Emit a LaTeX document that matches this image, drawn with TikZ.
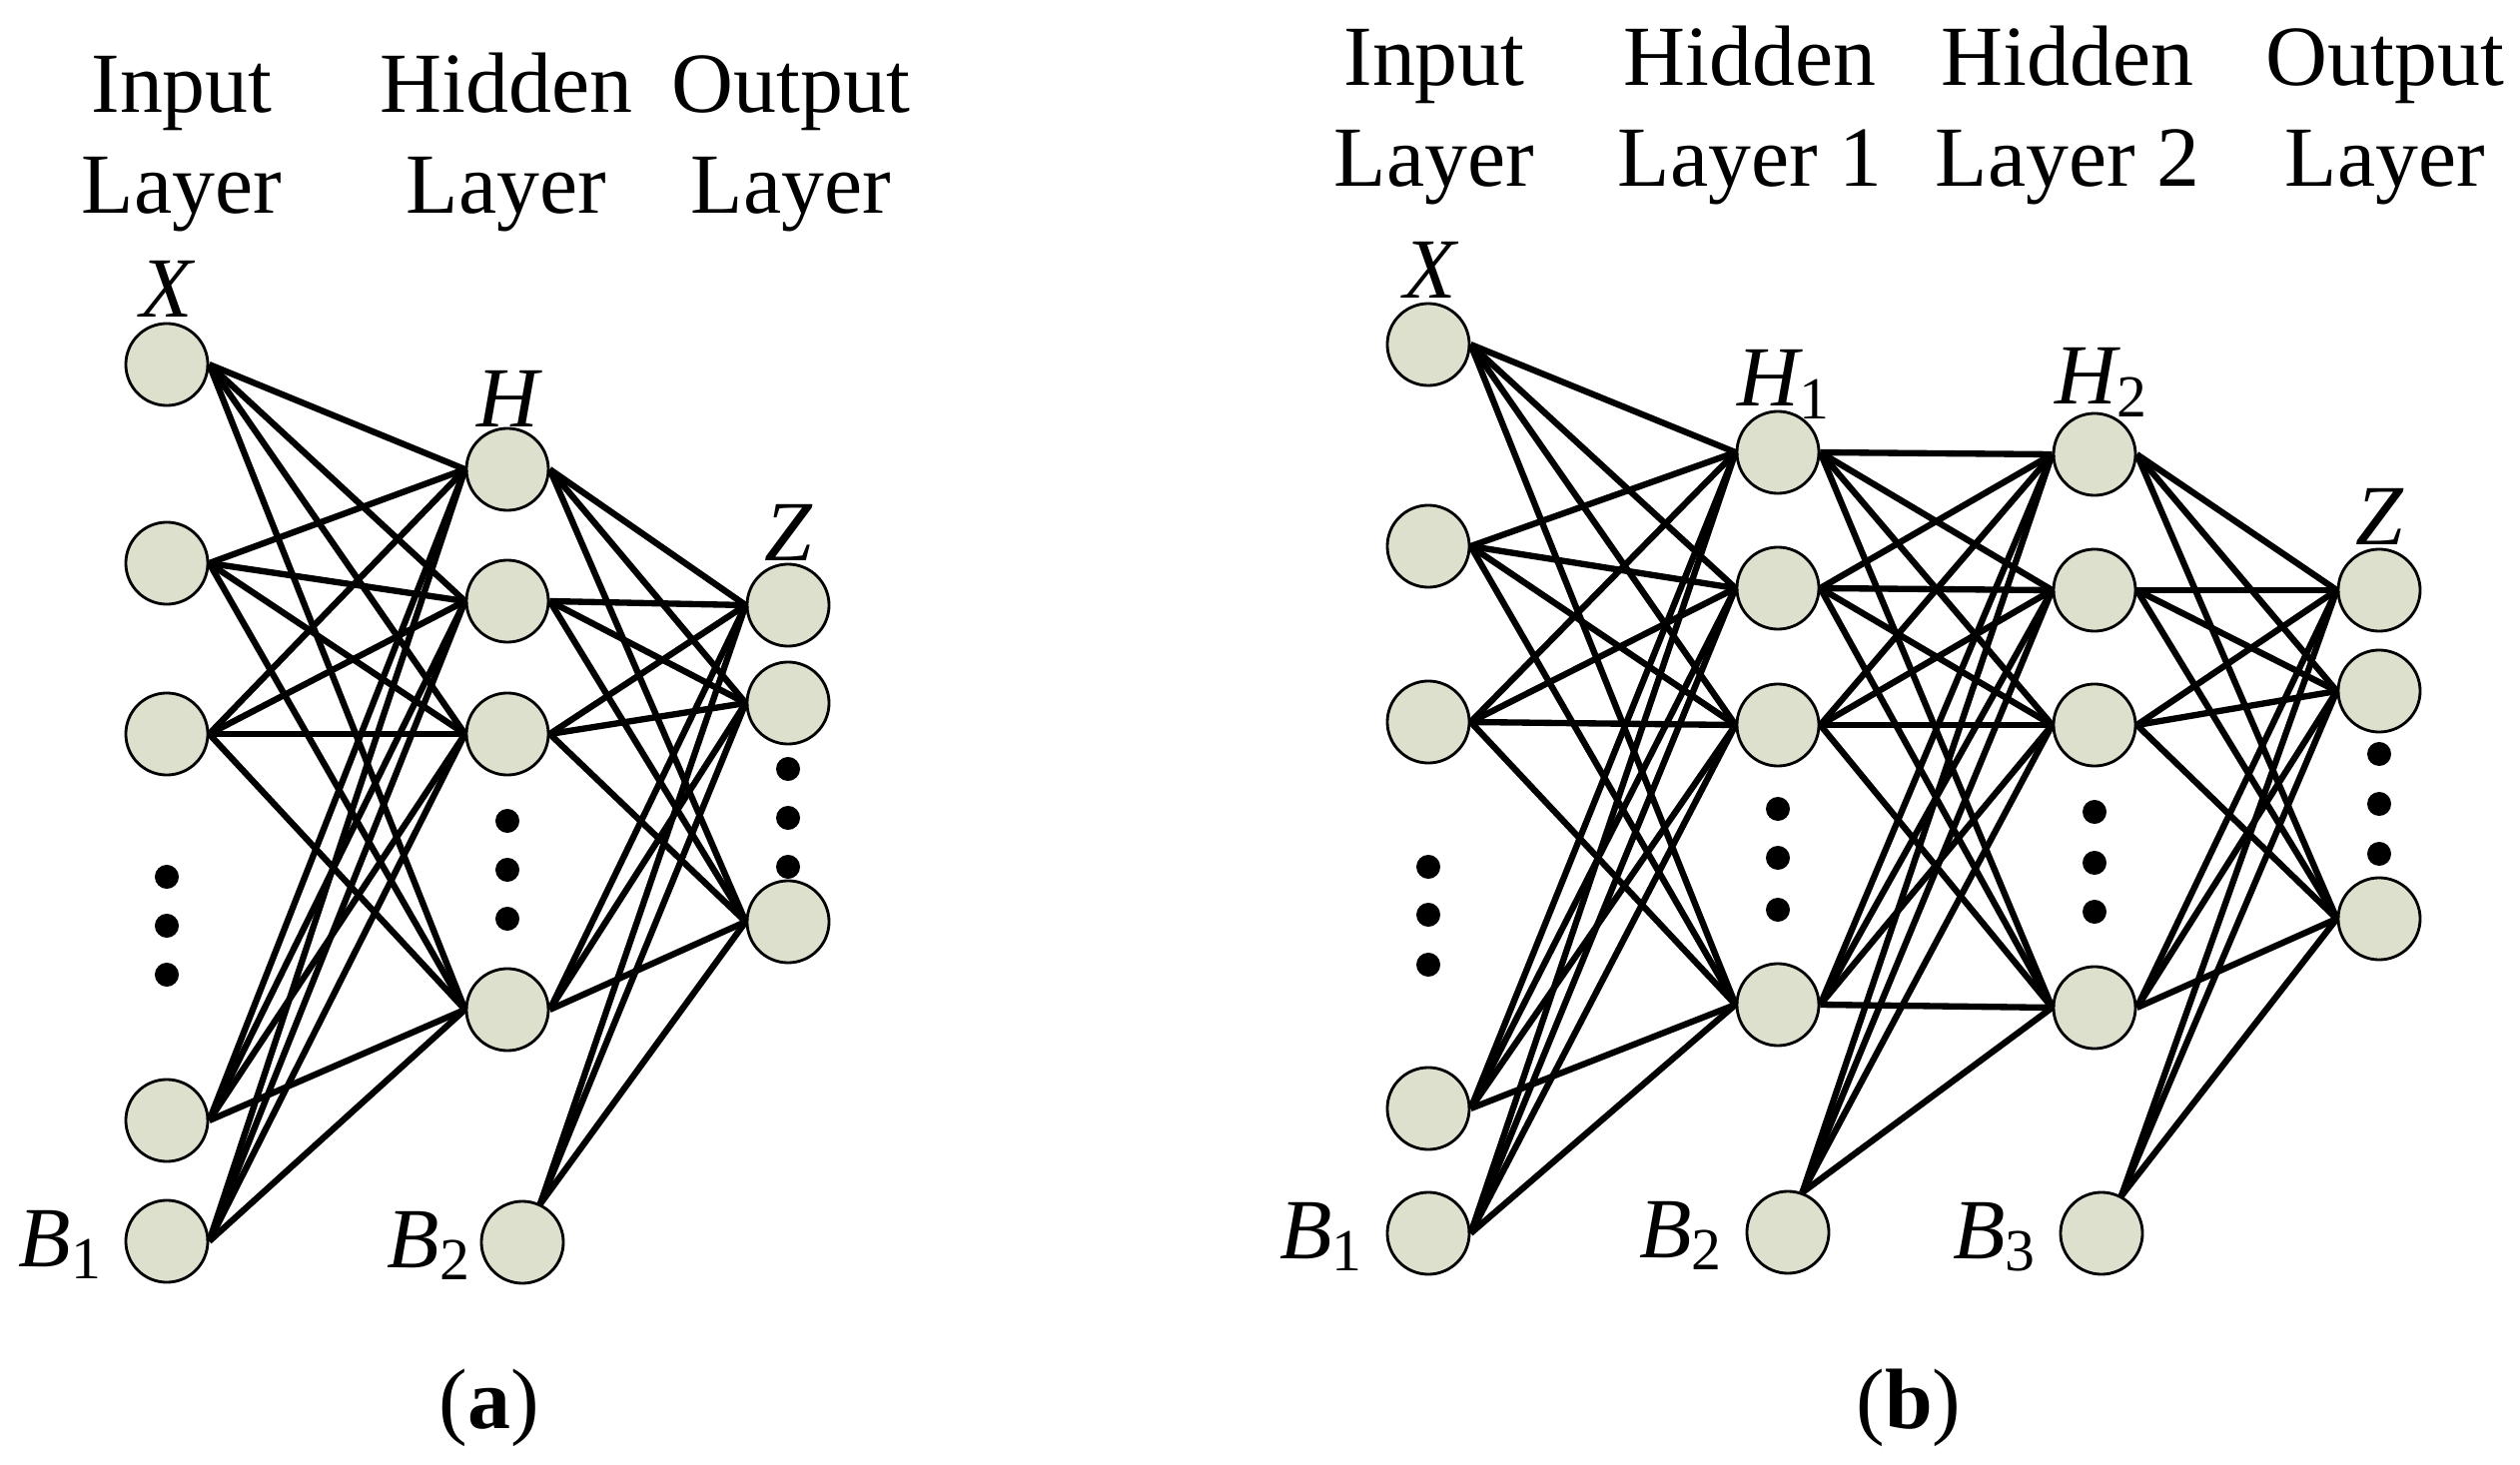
\documentclass[tikz,border=0pt]{standalone}
\usepackage{fontspec}
\setmainfont{Liberation Serif}
\usetikzlibrary{positioning}
\definecolor{nodefill}{HTML}{DCE0CC}
\newcommand{\subidx}[1]{\raisebox{-0.15em}{\upshape\fontsize{17}{17}\selectfont #1}}

\begin{document}
\begin{tikzpicture}[x=0.01cm, y=-0.01cm,
  neuron/.style={circle, draw, line width=0.8pt, fill=nodefill, minimum size=0.82cm, inner sep=0pt},
  vdot/.style={circle, fill=black, minimum size=0.24cm, inner sep=0pt},
  wire/.style={line width=1.8pt},
  lbl/.style={font=\fontsize{24.4}{29}\selectfont, inner sep=0pt}]
  \useasboundingbox (0,0) rectangle (2523,1467);

  % (a) layer titles
  \node [lbl, align=center, anchor=base] (ta1) at (182,214) {Input\\Layer};
  \node [lbl, align=center, anchor=base] (ta2) at (507,214) {Hidden\\Layer};
  \node [lbl, align=center, anchor=base] (ta3) at (792,214) {Output\\Layer};

  % (a) input layer
  \node [neuron] (ai1) at (167,365) {};
  \node [neuron] (ai2) at (167,564) {};
  \node [neuron] (ai3) at (167,735) {};
  \node [neuron] (ai4) at (167,1122) {};
  \node [neuron] (ab1) at (167,1243) {};
  \foreach \y [count=\i] in {878,927,976} \node [vdot] (aid\i) at (167,\y) {};
  % (a) hidden layer
  \node [neuron] (ah1) at (508,470) {};
  \node [neuron] (ah2) at (508,602) {};
  \node [neuron] (ah3) at (508,735) {};
  \node [neuron] (ah4) at (508,1011) {};
  \node [neuron] (ab2) at (523,1244) {};
  \foreach \y [count=\i] in {822,871,920} \node [vdot] (ahd\i) at (508,\y) {};
  % (a) output layer
  \node [neuron] (ao1) at (789,606) {};
  \node [neuron] (ao2) at (789,704) {};
  \node [neuron] (ao3) at (789,923) {};
  \foreach \y [count=\i] in {770,819,868} \node [vdot] (aod\i) at (789,\y) {};

  \node [lbl, anchor=base] (lax) at (167,318) {\itshape X};
  \node [lbl, anchor=base] (lah) at (508,428) {\itshape H};
  \node [lbl, anchor=base] (laz) at (789,562) {\itshape Z};
  \node [lbl, anchor=base east] (lab1) at (102,1268) {\itshape B\subidx{1}};
  \node [lbl, anchor=base east] (lab2) at (471,1269) {\itshape B\subidx{2}};

  \foreach \p in {ai1,ai2,ai3,ai4,ab1}
    \foreach \q in {ah1,ah2,ah3,ah4}
      \draw [wire] (\p.east) -- (\q.west);
  \foreach \p in {ah1,ah2,ah3,ah4}
    \foreach \q in {ao1,ao2,ao3}
      \draw [wire] (\p.east) -- (\q.west);
  \foreach \q in {ao1,ao2,ao3}
    \draw [wire] (ab2.65) -- (\q.west);

  \node [lbl, anchor=base] (capa) at (490,1430) {(\textbf{a})};

  % (b) layer titles
  \node [lbl, align=center, anchor=base] (tb1) at (1436,187) {Input\\Layer};
  \node [lbl, align=center, anchor=base] (tb2) at (1752,187) {Hidden\\Layer 1};
  \node [lbl, align=center, anchor=base] (tb3) at (2070,187) {Hidden\\Layer 2};
  \node [lbl, align=center, anchor=base] (tb4) at (2388,187) {Output\\Layer};

  % (b) input layer
  \node [neuron] (bi1) at (1430,345) {};
  \node [neuron] (bi2) at (1430,547) {};
  \node [neuron] (bi3) at (1430,723) {};
  \node [neuron] (bi4) at (1430,1110) {};
  \node [neuron] (bb1) at (1430,1235) {};
  \foreach \y [count=\i] in {868,916,966} \node [vdot] (bid\i) at (1430,\y) {};
  % (b) hidden layer 1
  \node [neuron] (bh1) at (1780,453) {};
  \node [neuron] (bh2) at (1780,589) {};
  \node [neuron] (bh3) at (1780,726) {};
  \node [neuron] (bh4) at (1780,1006) {};
  \node [neuron] (bb2) at (1790,1234) {};
  \foreach \y [count=\i] in {810,859,911} \node [vdot] (bhd\i) at (1780,\y) {};
  % (b) hidden layer 2
  \node [neuron] (bg1) at (2097,455) {};
  \node [neuron] (bg2) at (2097,591) {};
  \node [neuron] (bg3) at (2097,726) {};
  \node [neuron] (bg4) at (2097,1009) {};
  \node [neuron] (bb3) at (2104,1235) {};
  \foreach \y [count=\i] in {813,864,913} \node [vdot] (bgd\i) at (2097,\y) {};
  % (b) output layer
  \node [neuron] (bo1) at (2382,591) {};
  \node [neuron] (bo2) at (2382,692) {};
  \node [neuron] (bo3) at (2382,920) {};
  \foreach \y [count=\i] in {755,805,855} \node [vdot] (bod\i) at (2382,\y) {};

  \node [lbl, anchor=base] (lbx) at (1432,299) {\itshape X};
  \node [lbl, anchor=base] (lbh1) at (1785,407) {\itshape H\subidx{1}};
  \node [lbl, anchor=base] (lbh2) at (2103,405) {\itshape H\subidx{2}};
  \node [lbl, anchor=base] (lbz) at (2382,546) {\itshape Z};
  \node [lbl, anchor=base east] (lbb1) at (1364,1260) {\itshape B\subidx{1}};
  \node [lbl, anchor=base east] (lbb2) at (1724,1259) {\itshape B\subidx{2}};
  \node [lbl, anchor=base east] (lbb3) at (2038,1260) {\itshape B\subidx{3}};

  \foreach \p in {bi1,bi2,bi3,bi4,bb1}
    \foreach \q in {bh1,bh2,bh3,bh4}
      \draw [wire] (\p.east) -- (\q.west);
  \foreach \p in {bh1,bh2,bh3,bh4}
    \foreach \q in {bg1,bg2,bg3,bg4}
      \draw [wire] (\p.east) -- (\q.west);
  \foreach \q in {bg1,bg2,bg3,bg4}
    \draw [wire] (bb2.70) -- (\q.west);
  \foreach \p in {bg1,bg2,bg3,bg4}
    \foreach \q in {bo1,bo2,bo3}
      \draw [wire] (\p.east) -- (\q.west);
  \foreach \q in {bo1,bo2,bo3}
    \draw [wire] (bb3.62) -- (\q.west);

  \node [lbl, anchor=base] (capb) at (1911,1430) {(\textbf{b})};
\end{tikzpicture}
\end{document}
